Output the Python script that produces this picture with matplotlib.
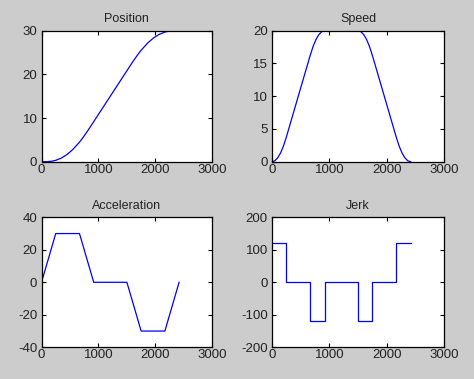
import matplotlib
matplotlib.use("Agg")
import matplotlib.pyplot as plt

plt.rcParams['font.family'] = ['Liberation Sans', 'DejaVu Sans']
plt.rcParams['axes.unicode_minus'] = False

# jerk / acceleration breakpoints (ms)
jerk_t = [0, 250, 667, 917, 1500, 1750, 2167, 2417]
jerk_v = [120, 0, -120, 0, -120, 0, 120, 120]

acc_t = [0, 250, 667, 917, 1500, 1750, 2167, 2417]
acc_v = [0, 30, 30, 0, 0, -30, -30, 0]

speed_t = [0, 50, 100, 150, 200, 250, 400, 550, 667, 717, 767, 817, 867, 917,
           1500, 1550, 1600, 1650, 1700, 1750, 1867, 2017, 2167, 2217, 2267,
           2317, 2367, 2417]
speed_v = [0, 0.15, 0.6, 1.35, 2.4, 3.75, 8.25, 12.75, 16.25, 17.6, 18.65,
           19.4, 19.85, 20, 20, 19.85, 19.4, 18.65, 17.6, 16.25, 12.75, 8.25,
           3.75, 2.4, 1.35, 0.6, 0.15, 0]

pos_t = [0, 50, 100, 150, 200, 250, 350, 450, 550, 667, 717, 767, 817, 867,
         917, 1500, 1550, 1600, 1650, 1700, 1750, 1867, 1967, 2067, 2167,
         2217, 2267, 2317, 2367, 2417]
pos_v = [0, 0.0025, 0.02, 0.0675, 0.16, 0.3125, 0.8375, 1.6625, 2.7875,
         4.479, 5.327, 6.234, 7.187, 8.169, 9.167, 20.833, 21.831, 22.813,
         23.766, 24.673, 25.521, 27.2125, 28.3375, 29.1625, 29.6875, 29.84,
         29.9325, 29.98, 29.9975, 30]

x_ticks = [0, 1000, 2000, 3000]

fig = plt.figure(figsize=(4.74, 3.79), dpi=100, facecolor='#cccccc')
W, H = 474.0, 379.0

def make_ax(x0, x1, y0, y1):
    return fig.add_axes([x0 / W, 1 - y1 / H, (x1 - x0) / W, (y1 - y0) / H])

ax1 = make_ax(41.5, 212.3, 30.7, 161.7)
ax2 = make_ax(272, 444, 30.7, 161.7)
ax3 = make_ax(41.5, 212.3, 217.3, 347.3)
ax4 = make_ax(272, 444, 217.3, 347.3)

ax1.plot(pos_t, pos_v, color='blue', lw=0.9)
ax1.set_ylim(0, 30)
ax1.set_yticks([0, 10, 20, 30])
ax1.set_title('Position')

ax2.plot(speed_t, speed_v, color='blue', lw=0.9)
ax2.set_ylim(0, 20)
ax2.set_yticks([0, 5, 10, 15, 20])
ax2.set_title('Speed')

ax3.plot(acc_t, acc_v, color='blue', lw=0.9)
ax3.set_ylim(-40, 40)
ax3.set_yticks([-40, -20, 0, 20, 40])
ax3.set_title('Acceleration')

ax4.step(jerk_t, jerk_v, where='post', color='blue', lw=0.9)
ax4.set_ylim(-200, 200)
ax4.set_yticks([-200, -100, 0, 100, 200])
ax4.set_title('Jerk')

for ax in (ax1, ax2, ax3, ax4):
    ax.set_xlim(0, 3000)
    ax.set_xticks(x_ticks)
    ax.set_facecolor('white')
    ax.title.set_fontsize(9)
    ax.title.set_color('#222222')
    for s in ax.spines.values():
        s.set_linewidth(0.9)
    ax.tick_params(direction='in', length=3, width=0.8, top=True, right=True,
                   labelsize=9.5, labelcolor='#222222')
    ax.tick_params(axis='x', pad=1.5)
    ax.tick_params(axis='y', pad=3)

fig.savefig('out.png', dpi=100, facecolor=fig.get_facecolor())
